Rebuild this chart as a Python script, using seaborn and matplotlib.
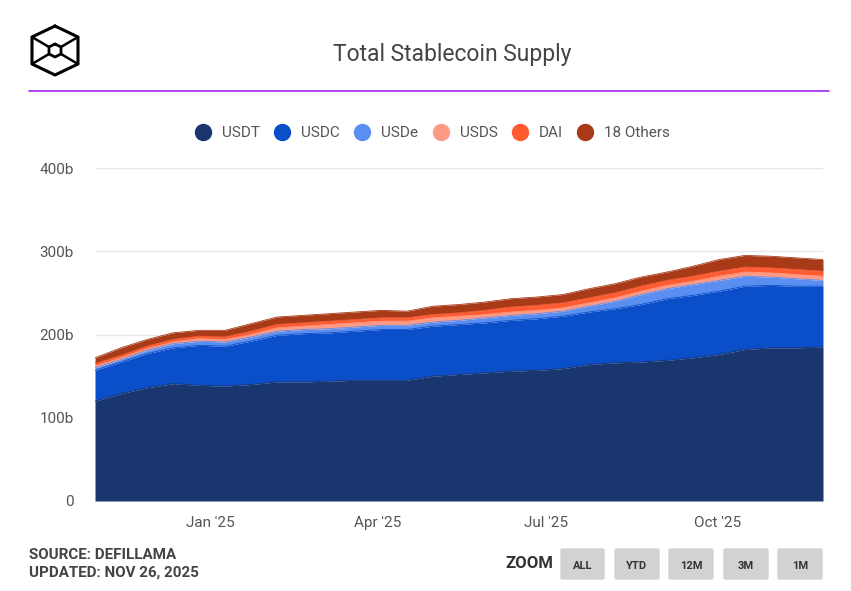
import numpy as np
import pandas as pd
import matplotlib
matplotlib.use("Agg")
import matplotlib.pyplot as plt
import matplotlib.dates as mdates
from matplotlib.lines import Line2D
from matplotlib.patches import FancyBboxPatch
import seaborn as sns

coins = ["USDT", "USDC", "USDe", "USDS", "DAI", "18 Others"]
colors = ["#1a366f", "#0b4ec9", "#5a8ef0", "#ff9a85", "#ff5a30", "#a83a18"]
dates = pd.date_range("2024-10-31", periods=29, freq="14D")
usdt = [120,129,136,141,139,138,140,143,143,144,145,145,145,150,152,154,156,157,159,164,166,167,169,172,176,182,184,184,185]
usdc = [37,38,41,43,48,48,52,56,58,58,59,61,61,60,60,60,61,62,63,63,65,69,74,75,76,76,75,74,73]
usde = [3,3,4,5,5,5,5,5,5,5,5,5,5,5,5,6,6,6,6,7,9,12,12,13,13,12,10,9,7]
usds = [2,2,2,2,3,3,3,4,4,5,5,5,5,5,5,4,4,4,4,4,4,4,4,4,5,5,5,5,5]
dai = [3,3,3,3,3,3,4,4,4,4,4,4,4,4,4,5,6,6,6,6,6,6,6,6,6,6,6,6,6]
others = [7,9,8,8,7,8,9,9,9,9,9,9,8,10,10,10,10,10,10,11,11,11,10,12,14,14,14,14,14]
series = [usdt, usdc, usde, usds, dai, others]
yticks = [0, 100, 200, 300, 400]
ylabels = ["0", "100b", "200b", "300b", "400b"]
xticks = ["2025-01-01", "2025-04-01", "2025-07-01", "2025-10-01"]
xlabels = ["Jan '25", "Apr '25", "Jul '25", "Oct '25"]
buttons = ["ALL", "YTD", "12M", "3M", "1M"]

W, H = 851, 591
sns.set_theme(style="white")
plt.rcParams["font.family"] = ["Roboto", "DejaVu Sans"]

fig = plt.figure(figsize=(W / 100, H / 100), dpi=100, facecolor="white")
def fx(x): return x / W
def fy(y): return 1 - y / H

ax = fig.add_axes([fx(95), fy(501), (823 - 95) / W, (501 - 168) / H])

frame = pd.DataFrame(np.cumsum(series, axis=0).T, index=dates, columns=coins)
long = frame.reset_index(names="date").melt("date", var_name="coin", value_name="top")
sns.lineplot(data=long, x="date", y="top", hue="coin", hue_order=coins,
             palette=colors, linewidth=0.6, legend=False, ax=ax, zorder=3)
lower = np.zeros(len(dates))
for c, col in zip(coins, colors):
    ax.fill_between(dates, lower, frame[c].values, color=col, linewidth=0, zorder=2)
    lower = frame[c].values

ax.set_xlim(dates[0], dates[-1])
ax.set_ylim(0, 400)
ax.set_xlabel("")
ax.set_ylabel("")
ax.set_yticks(yticks, ylabels)
ax.set_xticks([mdates.date2num(pd.Timestamp(d)) for d in xticks], xlabels)
ax.tick_params(axis="both", length=0, labelsize=11, labelcolor="#555555")
ax.tick_params(axis="x", pad=11)
ax.tick_params(axis="y", pad=15)
ax.grid(axis="y", color="#e8e8e8", linewidth=1, zorder=0)
ax.set_axisbelow(True)
for s in ax.spines.values():
    s.set_visible(False)

# header
fig.text(fx(452), fy(55), "Total Stablecoin Supply", ha="center", va="center",
         fontsize=16.5, color="#444444")
fig.add_artist(Line2D([fx(29), fx(829)], [fy(91), fy(91)], color="#a024ee", lw=1.2))

# logo
hex_pts = [(55, 26), (78, 37), (78, 64), (55, 75), (32, 64), (32, 37), (55, 26)]
fig.add_artist(Line2D([fx(p[0]) for p in hex_pts], [fy(p[1]) for p in hex_pts],
                      color="black", lw=2.2, solid_joinstyle="round"))
inner = [(55, 44), (61, 47), (61, 54), (55, 57), (49, 54), (49, 47), (55, 44)]
fig.add_artist(Line2D([fx(p[0]) for p in inner], [fy(p[1]) for p in inner],
                      color="black", lw=2.0))
for a, b in [((32, 37), (49, 47)), ((78, 37), (61, 47)), ((32, 64), (49, 54)), ((78, 64), (61, 54))]:
    fig.add_artist(Line2D([fx(a[0]), fx(b[0])], [fy(a[1]), fy(b[1])], color="black", lw=1.8))

# legend
handles = [Line2D([], [], marker="o", ls="", ms=11.5, color=c) for c in colors]
fig.legend(handles, coins, loc="center", bbox_to_anchor=(fx(429), fy(133)), ncol=6,
           frameon=False, fontsize=11, labelcolor="#555555", handletextpad=0.25,
           columnspacing=0.45, borderpad=0)

# footer
fig.text(fx(29), fy(555), "SOURCE: DEFILLAMA", fontsize=10.9, fontweight="bold",
         color="#444444", va="center")
fig.text(fx(29), fy(573), "UPDATED: NOV 26, 2025", fontsize=10.9, fontweight="bold",
         color="#444444", va="center")
fig.text(fx(505), fy(564), "ZOOM", fontsize=12, fontweight="bold", color="#333333", va="center")
for name, x0, x1 in zip(buttons, [560, 614, 668, 723, 777], [605, 660, 714, 769, 823]):
    fig.add_artist(FancyBboxPatch((fx(x0 + 1), fy(579)), (x1 - x0 - 2) / W, 30 / H,
                                  boxstyle="round,pad=0,rounding_size=0.002",
                                  transform=fig.transFigure, fc="#d2d2d2", ec="#d2d2d2", lw=1))
    fig.text(fx((x0 + x1) / 2), fy(566), name, fontsize=8, fontweight="bold",
             color="#333333", ha="center", va="center")

fig.savefig("out.png", dpi=100, facecolor="white")
